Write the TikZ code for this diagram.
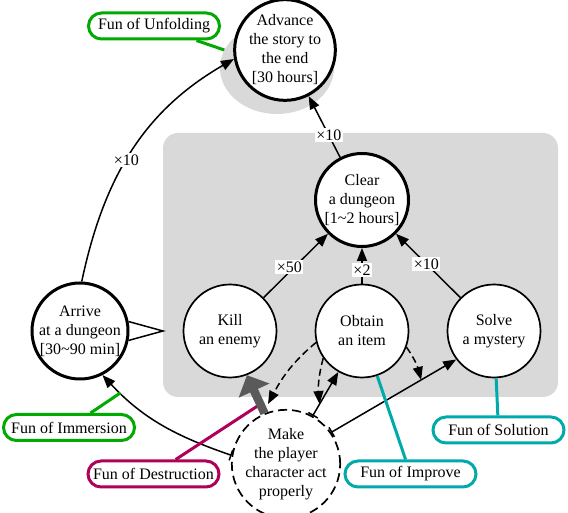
\documentclass[tikz,border=0pt]{standalone}
\usepackage{fontspec}
\setmainfont{Liberation Serif}
\usetikzlibrary{arrows.meta,shapes.geometric}
\definecolor{bggray}{RGB}{217,217,217}
\definecolor{arrowgray}{RGB}{90,90,90}
\definecolor{fungreen}{RGB}{0,170,0}
\definecolor{funteal}{RGB}{0,170,170}
\definecolor{funmag}{RGB}{175,0,90}
\newcommand{\tld}{\symbol{126}}
\begin{document}
\begin{tikzpicture}[x=1pt,y=1pt,
  every node/.style={font=\fontsize{16}{19}\selectfont},
  stagenode/.style={circle,draw,fill=white,line width=1.7pt,minimum size=93pt,inner sep=0pt,align=center},
  bigstage/.style={stagenode,line width=3pt},
  actstage/.style={stagenode,dash pattern=on 9pt off 5pt},
  conn/.style={line width=1.5pt,-{Triangle[length=13pt,width=10pt]}},
  dconn/.style={conn,dash pattern=on 7pt off 4pt},
  teeconn/.style={line width=1.5pt,{Bar[width=11pt]}-{Triangle[length=13pt,width=10pt]}},
  mult/.style={fill=white,inner sep=1.5pt},
  fun/.style={draw=#1,text=black,line width=3pt,rounded corners=13pt,minimum width=131pt,minimum height=26pt,inner sep=0pt,fill=white},
  funline/.style={line width=3pt}
]
\useasboundingbox (0,0) rectangle (568,513);
% backgrounds
\fill[bggray,rounded corners=15pt] (163,116) rectangle (558,380);
\node[ellipse,fill=bggray,minimum width=114pt,minimum height=92pt,inner sep=0pt] (advbg) at (277,445) {};
% stages
\node[bigstage] (adv) at (285,463) {Advance\\the story to\\the end\\{}[30 hours]};
\node[bigstage] (clear) at (362,313) {Clear\\a dungeon\\{}[1\tld2 hours]};
\node[stagenode] (kill) at (230,182) {Kill\\an enemy};
\node[stagenode] (obtain) at (362,182) {Obtain\\an item};
\node[stagenode] (solve) at (494,182) {Solve\\a mystery};
\node[bigstage] (arrive) at (80,182) {Arrive\\at a dungeon\\{}[30\tld90 min]};
\node[actstage] (make) at (286,49) {Make\\the player\\character act\\properly};
% callouts
\node[fun=fungreen] (unf) at (154,487) {Fun of Unfolding};
\node[fun=fungreen] (imm) at (69,85.5) {Fun of Immersion};
\node[fun=funmag] (des) at (153.5,39) {Fun of Destruction};
\node[fun=funteal] (imp) at (410.5,39) {Fun of Improve};
\node[fun=funteal] (sol) at (498.5,83) {Fun of Solution};
% hierarchy edges
\draw[conn] (clear) -- node[mult,pos=0.36]{×10} (adv);
\draw[conn] (kill) -- node[mult,pos=0.4,yshift=5pt]{×50} (clear);
\draw[conn] (obtain) -- node[mult,pos=0.38]{×2} (clear);
\draw[conn] (solve) -- node[mult,pos=0.53]{×10} (clear);
\draw[conn] (arrive.88) to[out=78,in=210] node[mult,pos=0.46]{×10} (adv.190);
\coordinate (apex) at (163,182);
\draw[line width=1.5pt] (arrive.11) -- (apex) -- (arrive.-11);
% action edges
\draw[teeconn] (make.171) to[out=161,in=313] coordinate[pos=0.85] (immpt) (arrive.297);
\path (make.113) -- coordinate[pos=0.24] (despt) (kill.291);
\draw[funline,funmag] (des) -- (despt);
\draw[line width=8.5pt,arrowgray,-{Triangle[length=17pt,width=33pt]}] (make.113) -- (kill.291);
\coordinate (itempt) at (268,109);
\draw[dconn] (obtain.194) to[out=220,in=62] (itempt);
\draw[teeconn] (make.61) -- coordinate[pos=0.27] (mopt) (obtain.240);
\draw[dconn] (obtain.215) to[out=255,in=95] (mopt);
\draw[teeconn] (make.35) -- coordinate[pos=0.72] (mspt) (solve.217);
\draw[dconn] (obtain.340) to[out=-55,in=105] (mspt);
% callout lines
\draw[funline,fungreen] (unf) -- (advbg);
\draw[funline,fungreen] (imm) -- (immpt);
\draw[funline,funteal] (imp) -- (obtain);
\draw[funline,funteal] (sol) -- (solve);
\end{tikzpicture}
\end{document}
